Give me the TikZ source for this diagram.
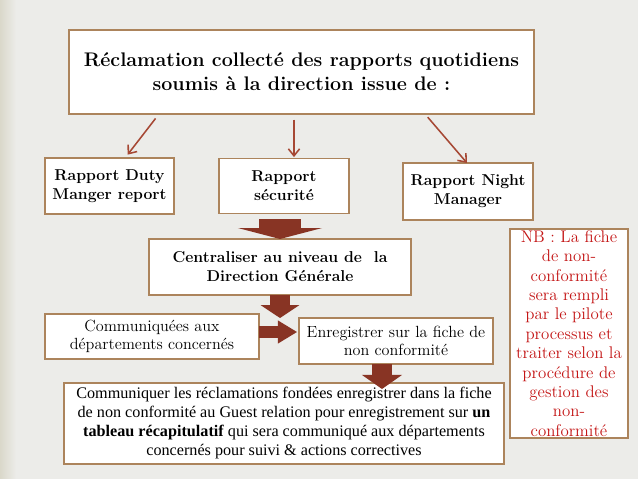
\documentclass[tikz,border=0pt]{standalone}
\usepackage{fontspec}
\newfontfamily\timesfont{Liberation Serif}
\usepackage{tikz}
\usetikzlibrary{arrows.meta,calc}
\definecolor{bgcolor}{RGB}{236,236,233}
\definecolor{stripcolor}{RGB}{218,216,202}
\definecolor{boxbrown}{RGB}{172,132,92}
\definecolor{arrowred}{RGB}{166,72,52}
\definecolor{blockred}{RGB}{136,52,36}
\definecolor{nbred}{RGB}{196,22,22}

\begin{document}
\begin{tikzpicture}[
  x=0.025cm, y=-0.025cm,
  box/.style={draw=boxbrown, line width=0.9pt, fill=white, inner sep=0pt, outer sep=0pt, align=center},
  bigfont/.style={font=\fontsize{14}{17}\selectfont\bfseries},
  boldfont/.style={font=\fontsize{11.2}{13.6}\selectfont\bfseries},
  plainfont/.style={font=\fontsize{11.5}{13}\selectfont},
  thinarrow/.style={draw=arrowred, line width=1.1pt, -{Straight Barb[length=5pt,width=8pt]}},
  bigarrow/.style={draw=blockred, line cap=butt}
]
\useasboundingbox (0,0) rectangle (638,479);
% background
\fill[bgcolor] (0,0) rectangle (638,479);
\shade[left color=stripcolor, right color=bgcolor] (0,0) rectangle (16,479);

% boxes
\node[box, bigfont, minimum width=11.625cm, minimum height=2.1cm] (top) at (301.5,72)
  {R\'eclamation collect\'e des rapports quotidiens\\soumis \`a la direction issue de :};
\node[box, boldfont, minimum width=3.225cm, minimum height=1.4cm] (duty) at (109.5,186)
  {Rapport Duty\\Manger report};
\node[box, boldfont, minimum width=3.25cm, minimum height=1.375cm] (secu) at (284,186)
  {Rapport\\s\'ecurit\'e};
\node[box, boldfont, minimum width=3.25cm, minimum height=1.425cm] (night) at (468,191.5)
  {Rapport Night\\Manager};
\node[box, boldfont, minimum width=6.55cm, minimum height=1.4cm] (central) at (280,267)
  {Centraliser au niveau de\ \ la\\Direction G\'en\'erale};
\node[box, plainfont, minimum width=5.35cm, minimum height=1.125cm] (commun) at (152,336.5)
  {Communiqu\'ees aux\\d\'epartements concern\'es};
\node[box, plainfont, minimum width=4.85cm, minimum height=1.15cm] (enreg) at (396,341)
  {Enregistrer sur la fiche de\\non conformit\'e};
\node[box, font=\timesfont\fontsize{11.5}{13.5}\selectfont, minimum width=11cm, minimum height=2.025cm] (final) at (284,423.5)
  {Communiquer les r\'eclamations fond\'ees enregistrer dans la fiche\\
   de non conformit\'e au Guest relation pour enregistrement sur \textbf{un}\\
   \textbf{tableau r\'ecapitulatif} qui sera communiqu\'e aux d\'epartements\\
   concern\'es pour suivi \& actions correctives};
\node[box, font=\fontsize{12}{13.8}\selectfont, text=nbred, minimum width=2.95cm, minimum height=5.225cm] (nb) at (569,333.5)
  {NB : La fiche\\de non-\\conformit\'e\\sera rempli\\par le pilote\\processus et\\traiter selon la\\proc\'edure de\\gestion des\\non-\\conformit\'e};

% thin arrows
\draw[thinarrow, shorten <=4pt, shorten >=3pt] ($(top.south)+(-142.5,0)$) -- ($(duty.north)+(15.5,0)$);
\draw[thinarrow, shorten <=4pt, shorten >=1pt] ($(top.south)+(-7.5,0)$) -- ($(secu.north)+(10,0)$);
\draw[thinarrow, shorten <=3pt, shorten >=0pt] ($(top.south)+(123.5,0)$) -- ($(night.north)+(-1,0)$);

% block arrows
\draw[bigarrow, line width=29.9pt, -{Triangle[length=7.8pt,width=59.8pt,line width=0pt]}, shorten <=4pt]
  (secu.south -| central.north) -- (central.north);
\draw[bigarrow, line width=14.9pt, -{Triangle[length=9.2pt,width=27.7pt,line width=0pt]}]
  (central.south) -- (central.south |- enreg.north);
\draw[bigarrow, line width=9.2pt, -{Triangle[length=13.5pt,width=16.4pt,line width=0pt]}]
  ($(commun.east)+(0,-4.5)$) -- ($(enreg.west)+(-2,-9)$);
\draw[bigarrow, line width=14.9pt, -{Triangle[length=10pt,width=28.5pt,line width=0pt]}]
  ($(enreg.south)+(-14,0)$) -- ($(enreg.south |- final.north)+(-14,6)$);
\end{tikzpicture}
\end{document}
